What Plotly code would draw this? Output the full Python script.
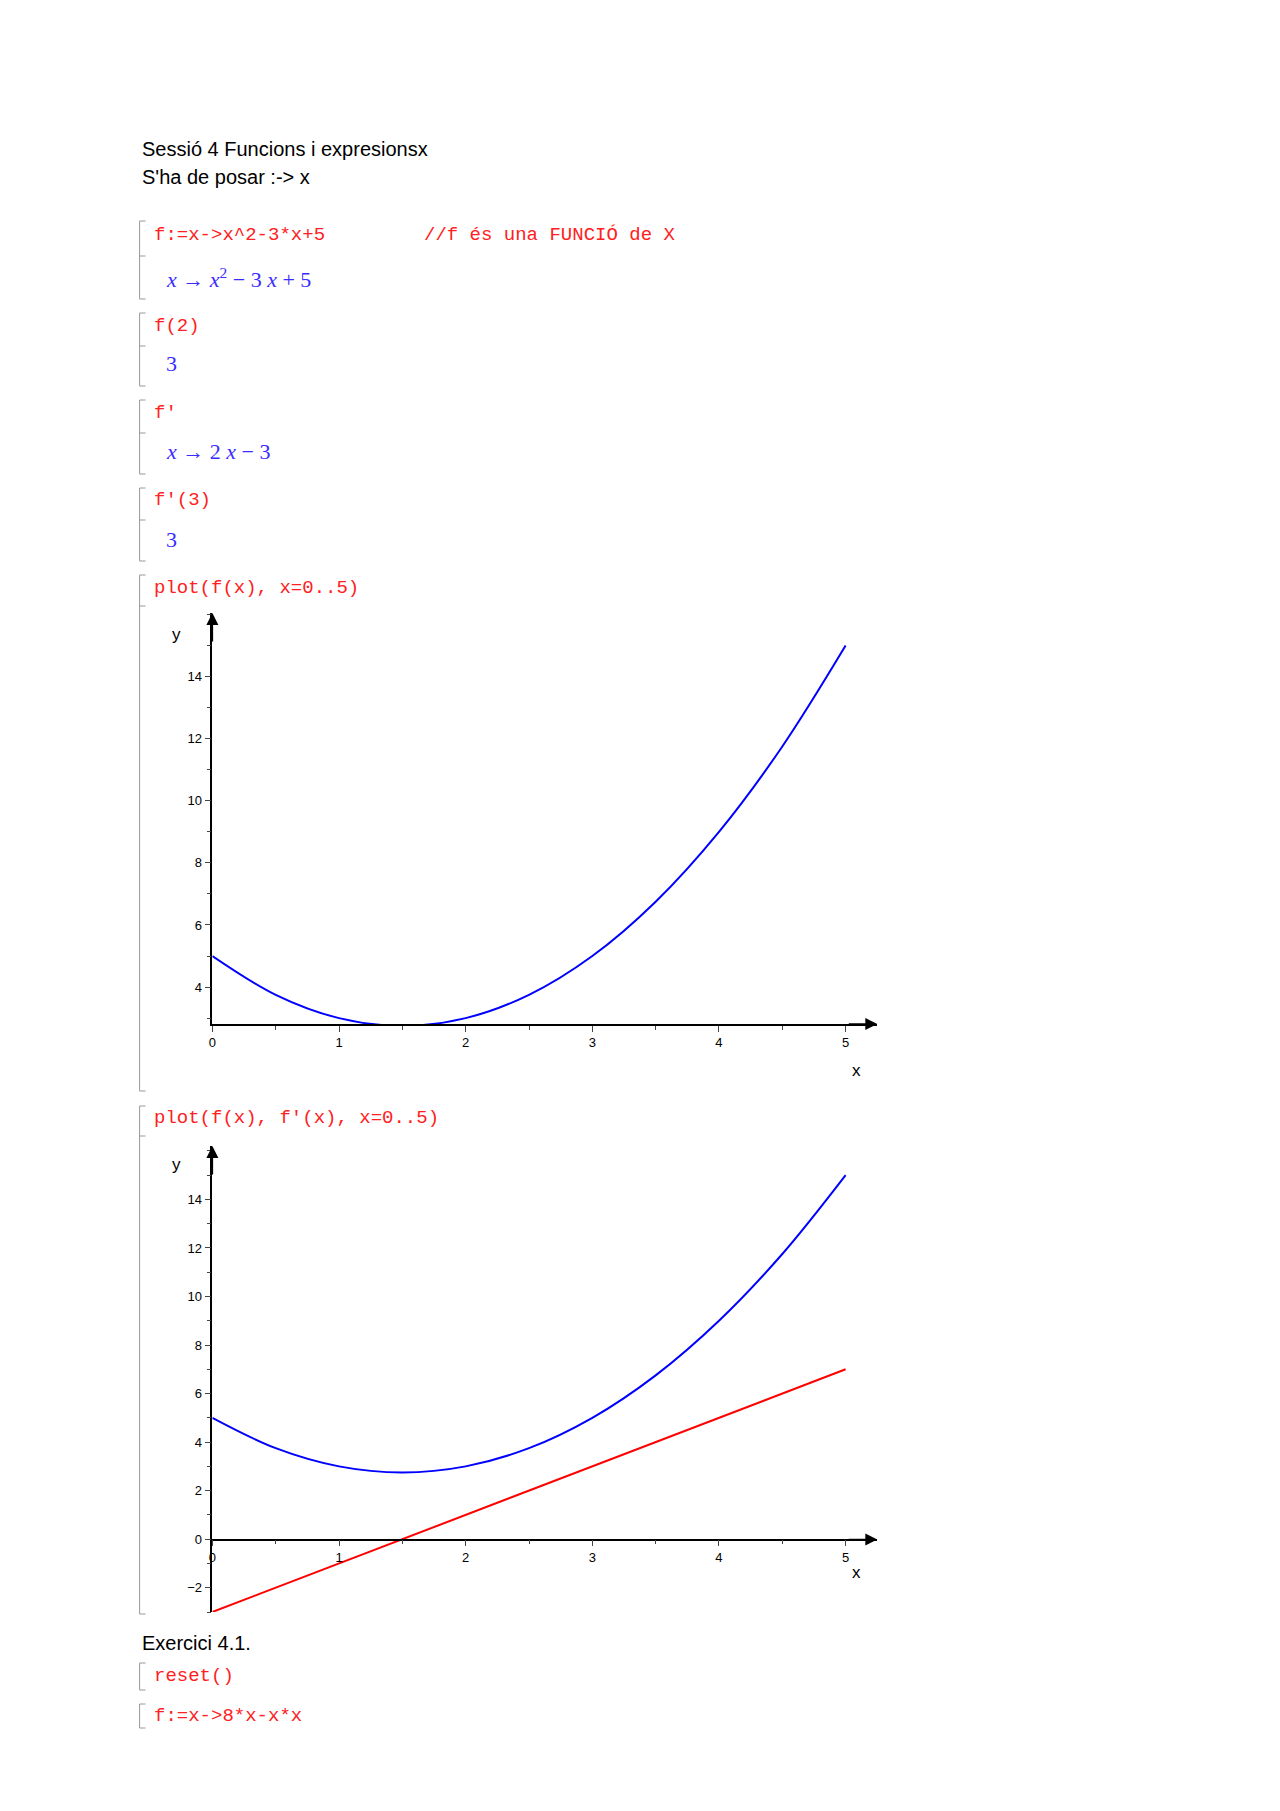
import plotly.graph_objects as go

W, H = 1280, 1811

# data
x_f = [0, 0.5, 1, 1.5, 2, 2.5, 3, 3.5, 4, 4.5, 5]
y_f = [5, 3.75, 3, 2.75, 3, 3.75, 5, 6.75, 9, 11.75, 15]
x_df = [0, 5]
y_df = [-3, 7]
x_ticks = [0, 1, 2, 3, 4, 5]
y_ticks1 = [4, 6, 8, 10, 12, 14]
y_ticks2 = [-2, 0, 2, 4, 6, 8, 10, 12, 14]


def px(x):
    return x / W


def py(y):
    return 1 - y / H


fig = go.Figure()
fig.add_trace(go.Scatter(x=x_f, y=y_f, mode="lines", line=dict(color="#0000ff", width=2, shape="spline"),
                         xaxis="x", yaxis="y", hoverinfo="skip"))
fig.add_trace(go.Scatter(x=x_f, y=y_f, mode="lines", line=dict(color="#0000ff", width=2, shape="spline"),
                         xaxis="x2", yaxis="y2", hoverinfo="skip"))
fig.add_trace(go.Scatter(x=x_df, y=y_df, mode="lines", line=dict(color="#ff0000", width=2),
                         xaxis="x2", yaxis="y2", hoverinfo="skip"))

tickfont = dict(family="Liberation Sans", size=13, color="black")
xcommon = dict(range=[0, 5.25], domain=[px(201), px(868)], showgrid=False, zeroline=False,
               showline=True, linecolor="black", linewidth=1.5, ticks="outside", ticklen=6,
               tickvals=x_ticks, tickfont=tickfont, minor=dict(dtick=0.5, ticks="outside", ticklen=4))
ycommon = dict(showgrid=False, zeroline=False, showline=True, linecolor="black", linewidth=1.5,
               ticks="outside", ticklen=6, tickfont=tickfont, minor=dict(dtick=1, ticks="outside", ticklen=4))

y0_pos = py(1531.5)
fig.update_layout(
    width=W, height=H, margin=dict(l=0, r=0, t=0, b=0),
    paper_bgcolor="white", plot_bgcolor="white", showlegend=False,
    xaxis=dict(xcommon, anchor="y"),
    yaxis=dict(ycommon, range=[2.81, 16.05], domain=[py(1016), py(605)], tickvals=y_ticks1, anchor="x"),
    xaxis2=dict(xcommon, anchor="free", position=y0_pos),
    yaxis2=dict(ycommon, range=[-3, 16.2], domain=[py(1604), py(1138)], tickvals=y_ticks2, anchor="x2"),
)

ann = []
shapes = []


def text(x, y, s, family="Liberation Sans", size=20, color="black", italic=False):
    ann.append(dict(x=px(x), y=py(y), xref="paper", yref="paper", text=s, showarrow=False,
                    xanchor="left", yanchor="middle",
                    font=dict(family=family, size=size, color=color, style="italic" if italic else "normal")))


def bracket(top, bottom, mid=None):
    shapes.append(dict(type="path", xref="paper", yref="paper",
                       path=f"M {px(134)},{py(top)} L {px(128)},{py(top)} L {px(128)},{py(bottom)} L {px(134)},{py(bottom)}",
                       line=dict(color="#999999", width=1)))
    if mid:
        shapes.append(dict(type="line", xref="paper", yref="paper", x0=px(128), x1=px(134),
                           y0=py(mid), y1=py(mid), line=dict(color="#999999", width=1)))


code = dict(family="Liberation Mono", size=19, color="#ff2020")
math = dict(family="Liberation Serif", size=22, color="#3a2cff")

text(128, 141, "Sessió 4 Funcions i expresionsx")
text(128, 169, "S'ha de posar :-> x")

bracket(213, 291, 248)
text(140, 227, "f:=x->x^2-3*x+5", **code)
text(411, 227, "//f és una FUNCIÓ de X", **code)
text(152, 270, "<i>x</i> → <i>x</i><sup>2</sup> − 3 <i>x</i> + 5", **math)

bracket(305, 378, 338)
text(140, 318, "f(2)", **code)
text(152, 356, "3", **math)

bracket(392, 466, 425)
text(140, 405, "f'", **code)
text(152, 443, "<i>x</i> → 2 <i>x</i> − 3", **math)

bracket(480, 553, 512)
text(140, 492, "f'(3)", **code)
text(152, 531, "3", **math)

bracket(567, 1083, 598)
text(140, 580, "plot(f(x), x=0..5)", **code)

bracket(1098, 1606, 1128)
text(140, 1110, "plot(f(x), f'(x), x=0..5)", **code)

text(128, 1635, "Exercici 4.1.")
bracket(1655, 1682)
text(140, 1668, "reset()", **code)
bracket(1696, 1720)
text(140, 1708, "f:=x->8*x-x*x", **code)

# axis labels and arrow heads
lab = dict(family="Liberation Sans", size=17, color="black")
for ylab, xlab_y, arrow_top, xline in [(626, 1062, 605, 1016), (1156, 1576, 1138, 1531.5)]:
    ann.append(dict(x=px(158), y=py(ylab), xref="paper", yref="paper", text="y", showarrow=False, font=lab))
    ann.append(dict(x=px(854), y=py(xlab_y), xref="paper", yref="paper", text="x", showarrow=False, font=lab))
    ann.append(dict(x=px(201), y=py(arrow_top), ax=0, ay=30, xref="paper", yref="paper",
                    axref="pixel", ayref="pixel", text="", showarrow=True, arrowhead=2, arrowsize=1.6,
                    arrowwidth=1.5, arrowcolor="black"))
    ann.append(dict(x=px(868), y=py(xline), ax=-30, ay=0, xref="paper", yref="paper",
                    axref="pixel", ayref="pixel", text="", showarrow=True, arrowhead=2, arrowsize=1.6,
                    arrowwidth=1.5, arrowcolor="black"))

fig.update_layout(annotations=ann, shapes=shapes)
fig.write_html("out.html")
